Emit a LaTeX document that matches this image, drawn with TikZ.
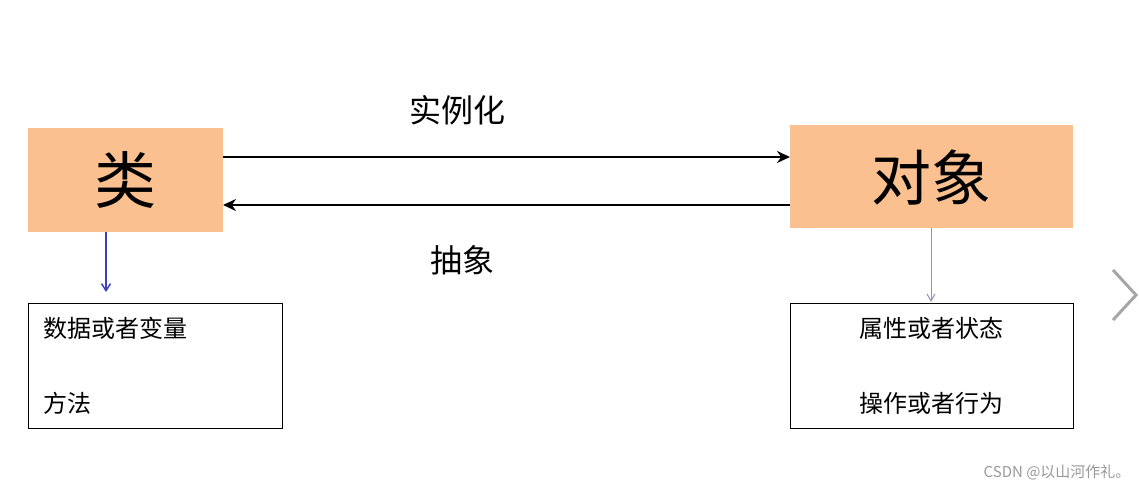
\documentclass[tikz,border=0pt]{standalone}
\usepackage{fontspec}
\newfontfamily\cjk{Noto Sans CJK SC}
\usetikzlibrary{arrows.meta}
\definecolor{peach}{HTML}{FAC090}
\begin{document}
\begin{tikzpicture}[x=1pt,y=-1pt,
  big/.style={fill=peach,draw=none,inner sep=0},
  small/.style={draw=black,line width=0.8pt,fill=white},
  conn/.style={line width=2.6pt,-{Stealth[length=13pt,width=12pt]}},
  lbl/.style={font=\cjk\fontsize{32}{36}\selectfont},
  txt/.style={font=\cjk\fontsize{24}{28}\selectfont}]
\useasboundingbox[fill=white] (0,0) rectangle (1139,494);
\path[big] (28,128) rectangle (223,232);
\node[font=\cjk\fontsize{62}{66}\selectfont] (lei) at (125.5,180) {类};
\path[big] (790,125) rectangle (1073,228);
\node[font=\cjk\fontsize{60}{64}\selectfont] (dx) at (931.5,178) {对象};
\coordinate (a1) at (223,157); \coordinate (b1) at (790,157);
\coordinate (a2) at (790,205); \coordinate (b2) at (223,205);
\draw[conn] (a1) -- (b1);
\draw[conn] (a2) -- (b2);
\node[lbl] (sl) at (457,110) {实例化};
\node[lbl] (cx) at (462,260) {抽象};
\draw[small] (28,303) rectangle (282,428);
\draw[small] (790,303) rectangle (1073,428);
\node[txt,anchor=west] (t1) at (40,328) {数据或者变量};
\node[txt,anchor=west] (t2) at (40,403) {方法};
\node[txt] (t3) at (931,328) {属性或者状态};
\node[txt] (t4) at (931,403) {操作或者行为};
\coordinate (c1) at (106,232); \coordinate (d1) at (106,292);
\coordinate (c2) at (931,228); \coordinate (d2) at (931,302);
\draw[color=blue!50!gray,line width=1.5pt,-{Straight Barb[length=7pt,width=9pt]}] (c1) -- (d1);
\draw[color=blue!25!gray!70,line width=1pt,-{Straight Barb[length=7pt,width=8pt]}] (c2) -- (d2);
\draw[gray!70,line width=3pt] (1113,270) -- (1136,295) -- (1113,320);
\node[font=\cjk\fontsize{15}{17}\selectfont,text=gray!80,anchor=east] (wm) at (1134,472) {CSDN @以山河作礼。};
\end{tikzpicture}
\end{document}
